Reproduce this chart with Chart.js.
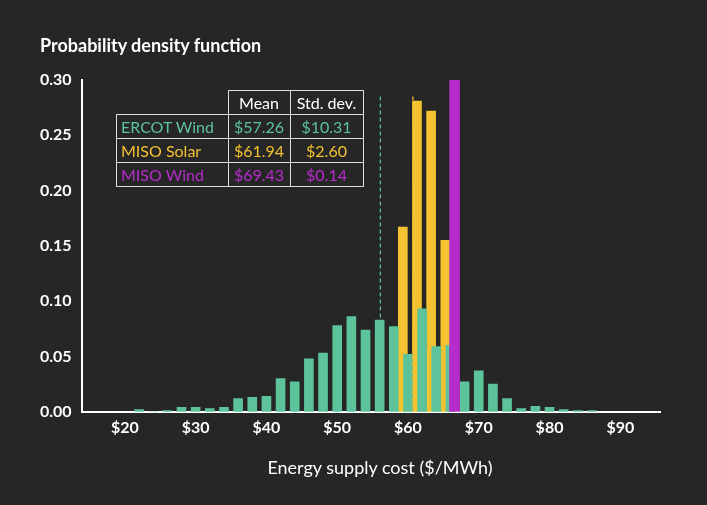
<!DOCTYPE html>
<html><head><meta charset="utf-8">
<script src="https://cdn.jsdelivr.net/npm/chart.js@4"></script>
<style>
html,body{margin:0;padding:0;background:#262626;}
#wrap{position:relative;width:707px;height:505px;}
#title{position:absolute;left:40px;top:34px;color:#fff;font:bold 18px Lato,sans-serif;}
#xt{position:absolute;left:0;width:760px;top:456px;text-align:center;color:#fff;font:18px Lato,sans-serif;}
table{position:absolute;left:116px;top:90px;border-collapse:collapse;font:16px Lato,sans-serif;}
td{border:1.5px solid #ddd;height:23px;padding:0 4px;text-align:center;}
td.e{border:none;border-bottom:1.5px solid #ddd;}
</style></head><body>
<div id="wrap">
<canvas id="c" width="707" height="505"></canvas>
<div id="title">Probability density function</div>
<div id="xt">Energy supply cost ($/MWh)</div>
<table>
<tr><td class="e" style="width:103px"></td><td style="color:#fff;width:53px">Mean</td><td style="color:#fff;width:64px">Std. dev.</td></tr>
<tr style="color:#5cc39a"><td style="text-align:left">ERCOT Wind</td><td>$57.26</td><td>$10.31</td></tr>
<tr style="color:#f5c232"><td style="text-align:left">MISO Solar</td><td>$61.94</td><td>$2.60</td></tr>
<tr style="color:#b62ccb"><td style="text-align:left">MISO Wind</td><td>$69.43</td><td>$0.14</td></tr>
</table>
</div>
<script>
const ercotX=[22,24,26,28,30,32,34,36,38,40,42,44,46,48,50,52,54,56,58,60,62,64,66,68,70,72,74,76,78,80,82,84,86];
const ercotY=[0.002,0,0.001,0.004,0.004,0.003,0.004,0.012,0.013,0.014,0.030,0.027,0.048,0.053,0.078,0.086,0.074,0.083,0.077,0.052,0.093,0.059,0.060,0.027,0.037,0.025,0.012,0.003,0.005,0.004,0.002,0.001,0.001];
const solarX=[58,60,62,64];
const solarY=[0.167,0.281,0.272,0.155];
const windX=[68];
const windY=[0.31];
const meanLineX=[56.1,60.7];
const meanLineColors=['#5cc39a','#f5c232'];
const xTicks=[20,30,40,50,60,70,80,90];
const yTicks=[0,0.05,0.10,0.15,0.20,0.25,0.30];

const pts=(xs,ys)=>xs.map((x,i)=>({x:x,y:ys[i]}));
const vlines={id:'vl',afterDatasetsDraw(ch){const c=ch.ctx,a=ch.chartArea,xs=ch.scales.x;
 c.save();c.setLineDash([4,3]);c.lineWidth=1.2;
 meanLineX.forEach((v,i)=>{const px=xs.getPixelForValue(v);c.strokeStyle=meanLineColors[i];c.beginPath();c.moveTo(px,ch.scales.y.getPixelForValue(0.285));c.lineTo(px,a.bottom);c.stroke();});
 c.restore();}};
new Chart(document.getElementById('c'),{
 type:'bar',
 data:{datasets:[
  {data:pts(windX,windY),backgroundColor:'#b62ccb',order:0,barThickness:10},
  {data:pts(ercotX,ercotY),backgroundColor:'#5cc39a',order:1,barThickness:9},
  {data:pts(solarX,solarY),backgroundColor:'#f5c232',order:2,barThickness:9}
 ]},
 plugins:[vlines],
 options:{responsive:false,animation:false,
  layout:{padding:{left:36,right:47,top:80,bottom:62}},
  plugins:{legend:{display:false},tooltip:{enabled:false}},
  scales:{
   x:{type:'linear',min:19,max:90.5,grid:{display:false,drawTicks:false},border:{color:'#fff',width:2},
     afterBuildTicks:s=>{s.ticks=xTicks.map(v=>({value:v}));},
     ticks:{color:'#fff',font:{family:'Lato',size:16,weight:'bold'},padding:6,callback:v=>'$'+v,maxRotation:0}},
   y:{min:0,max:0.30,grid:{display:false,tickLength:6,tickColor:'#fff'},border:{color:'#fff',width:2},
     afterBuildTicks:s=>{s.ticks=yTicks.map(v=>({value:v}));},
     ticks:{color:'#fff',font:{family:'Lato',size:16,weight:'bold'},padding:4,callback:v=>v.toFixed(2)}}
  }}
});
</script></body></html>
